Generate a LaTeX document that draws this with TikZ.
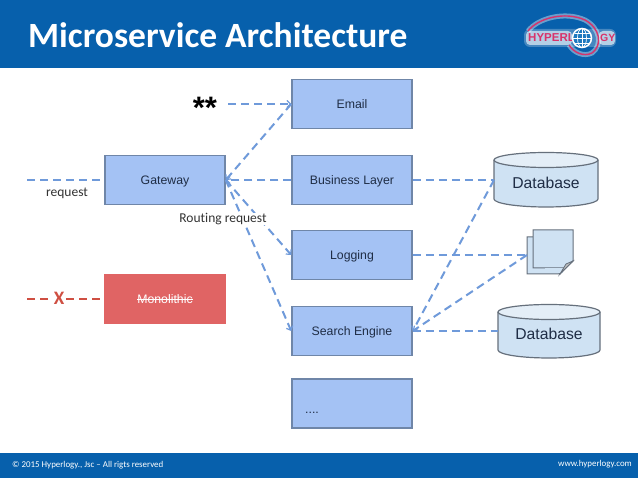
\documentclass[tikz,border=0pt]{standalone}
\usepackage{fontspec}
\setmainfont{Liberation Sans}
\newfontfamily\calib[Ligatures=NoCommon]{Carlito}
\usetikzlibrary{arrows.meta}
\newcommand\strikeout[1]{\setbox0\hbox{#1}\rlap{\raisebox{.42\ht0}{\rule{\wd0}{.7pt}}}\box0 }
\definecolor{hdr}{HTML}{0760AC}
\definecolor{globef}{HTML}{1C78BE}
\definecolor{boxf}{HTML}{A4C2F4}
\definecolor{boxd}{HTML}{6F86A8}
\definecolor{lnk}{HTML}{6F9ADA}
\definecolor{redf}{HTML}{E06464}
\definecolor{redl}{HTML}{CF4F42}
\definecolor{dbf}{HTML}{CFE2F3}
\definecolor{dbt}{HTML}{E4EEF7}
\definecolor{dbd}{HTML}{66707C}
\definecolor{pnk}{HTML}{D8326A}
\definecolor{ink}{HTML}{1F2D45}
\tikzset{
 box/.style={draw=boxd,line width=1.5pt,fill=boxf,minimum width=120pt,minimum height=49pt,inner sep=0pt,text=ink,text height=8.8pt,text depth=0pt,font=\fontsize{12.3}{14}\selectfont},
 link/.style={draw=lnk,line width=2pt,dash pattern=on 8pt off 5pt},
 tip/.style={-{Straight Barb[length=3.5pt,width=7pt,line width=1.2pt]}},
 redlink/.style={draw=redl,line width=2pt,dash pattern=on 8pt off 5pt},
 dbshape/.style={draw=dbd,line width=1.2pt,fill=dbf},
 dbtop/.style={draw=dbd,line width=1.2pt,fill=dbt},
 dblabel/.style={inner sep=0pt,text=ink,font=\fontsize{15.7}{17}\selectfont},
 note/.style={inner sep=1pt,text=black!80,font=\calib\fontsize{13.5}{15}\selectfont},
 foot/.style={inner sep=0pt,text=white,font=\calib\fontsize{8.9}{11}\selectfont},
 logo/.style={inner sep=0pt,text=pnk,font=\bfseries\fontsize{11.5}{13}\selectfont},
 swoosh/.style={draw=pnk,line width=1.4pt},
 glow/.style={draw=white,line width=5pt,opacity=.4},
 globeline/.style={draw=white,line width=.7pt}
}
\begin{document}
\begin{tikzpicture}[x=1pt,y=-1pt]
\useasboundingbox (0,0) rectangle (638,478);
\fill[white] (0,0) rectangle (638,478);
\fill[hdr] (0,0) rectangle (638,68.5);
\fill[hdr] (0,453) rectangle (638,478);
\node[anchor=west,inner sep=0pt,text=white,font=\calib\bfseries\fontsize{35.5}{38}\selectfont] (title) at (28,35) {Microservice Architecture};
% logo
\path[glow] (528,31) .. controls (538,18) and (565,11) .. (585,20) .. controls (600,28) and (603,45) .. (592,53) .. controls (584,57) and (574,53) .. (569,45);
\fill[white,opacity=.25,rounded corners=6pt] (524,29) rectangle (616,47);
\fill[white,opacity=.6,rounded corners=4pt] (526,31) rectangle (572,45);
\fill[white,opacity=.6,rounded corners=4pt] (599,31) rectangle (615,45);
\draw[swoosh] (528,31) .. controls (538,18) and (565,11) .. (585,20) .. controls (600,28) and (603,45) .. (592,53) .. controls (584,57) and (574,53) .. (569,45);
\node[logo,anchor=west] (hyper) at (528,38) {HYPERL};
\node[logo,anchor=west,font=\bfseries\fontsize{10.5}{12}\selectfont] (gy) at (600,38) {GY};
\node[circle,draw=white,line width=1.5pt,fill=globef,minimum size=19pt,inner sep=0pt] (globe) at (582,38) {};
\draw[globeline] (globe.north) -- (globe.south);
\draw[globeline] (globe.west) -- (globe.east);
\draw[globeline] (globe.center) ellipse (4.5 and 9.5);
\draw[globeline] (574.5,33) -- (589.5,33) (574.5,43) -- (589.5,43);
% boxes
\node[box] (gateway) at (165,180) {Gateway};
\node[box] (email) at (352,104) {Email};
\node[box] (business) at (352,180) {Business Layer};
\node[box] (logging) at (352,255) {Logging};
\node[box] (search) at (352,331) {Search Engine};
\node[box] (more) at (352,403.5) {};
\node[inner sep=0pt,text=ink,font=\fontsize{12.3}{14}\selectfont] (dots) at (312,413) {....};
\node[box,fill=redf,draw=redf,text=white] (mono) at (165,299) {\strikeout{Monolithic}};
% databases
\draw[dbshape] (494,160) -- (494,199) arc[start angle=180,end angle=0,x radius=52,y radius=8] -- (598,160);
\draw[dbtop] (546,160) ellipse (52 and 7.5);
\node[dblabel] (db1) at (546,183) {Database};
\coordinate (db1w) at (494,180);
\draw[dbshape] (498,312) -- (498,350) arc[start angle=180,end angle=0,x radius=51,y radius=8] -- (600,312);
\draw[dbtop] (549,312) ellipse (51 and 7.5);
\node[dblabel] (db2) at (549,334) {Database};
\coordinate (db2w) at (498,331);
% documents
\path[draw=dbd,line width=1pt,fill=dbf] (527,237) -- (540,237) -- (560,274) -- (527,274) -- cycle;
\path[draw=dbd,line width=1pt,fill=dbf] (533,230) -- (573,230) -- (573,261) -- (565,268) -- (533,268) -- cycle;
\path[fill=dbf] (545,268.5) rectangle (563,273.5);
\draw[dbd,line width=1pt] (560,274) -- (573,261);
\path[draw=dbd,line width=.8pt,fill=black!25] (573,261) -- (566,264) -- (560,274) -- cycle;
\coordinate (docw) at (527,255);
% free ends
\coordinate (reqin) at (27,180);
\coordinate (starout) at (228,104);
\coordinate (redin) at (27,299);
% connectors
\draw[link] (reqin) -- (gateway.west);
\draw[link,tip] (starout) -- (email.west);
\draw[link,tip] (email.west) -- (gateway.east);
\draw[link,tip] (business.west) -- (gateway.east);
\draw[link,tip] (gateway.east) -- (logging.west);
\draw[link,tip] (gateway.east) -- (search.west);
\draw[link] (business.east) -- (db1w);
\draw[link] (logging.east) -- (docw);
\draw[link] (search.east) -- (db2w);
\draw[link,tip] (db1w) -- (search.east);
\draw[link,tip] (docw) -- (search.east);
\draw[redlink] (redin) -- (mono.west);
% labels
\node[note,fill=white] (req) at (67,193) {request};
\node[note,fill=white,inner sep=0pt] (routing) at (223,219) {Routing request};
\node[inner sep=0pt,text=black,font=\bfseries\fontsize{31}{31}\selectfont] (stars) at (205,108) {**};
\node[fill=white,inner sep=1pt,text=redl,font=\calib\bfseries\fontsize{19}{20}\selectfont] (xmark) at (59,298) {X};
\node[foot,anchor=west] (copy) at (12,465.5) {© 2015 Hyperlogy., Jsc – All rigts reserved};
\node[foot,anchor=east] (web) at (632,464.5) {www.hyperlogy.com};
\end{tikzpicture}
\end{document}
